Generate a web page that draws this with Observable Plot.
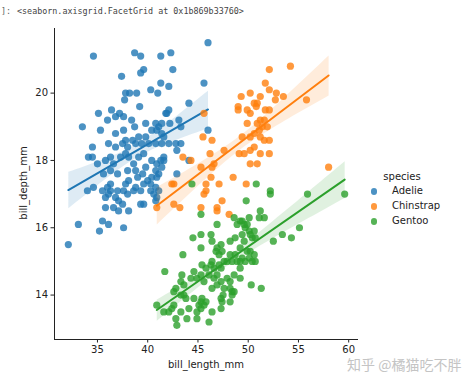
<!DOCTYPE html>
<html><head><meta charset="utf-8">
<script src="https://cdn.jsdelivr.net/npm/d3@7"></script>
<script src="https://cdn.jsdelivr.net/npm/@observablehq/plot@0.6"></script>
<style>
body{margin:0;background:#fff;}
#wrap{position:relative;width:474px;height:383px;overflow:hidden;font-family:"DejaVu Sans",sans-serif;color:#222;}
.abs{position:absolute;white-space:nowrap;line-height:1;}
</style></head>
<body><div id="wrap"></div>
<script>
const species = ["Adelie", "Chinstrap", "Gentoo"];
const colors = ["#1f77b4", "#ff7f0e", "#2ca02c"];
const xTicks = [35, 40, 45, 50, 55, 60];
const yTicks = [14, 16, 18, 20];
const xDomain = [30.725, 60.975];
const yDomain = [12.68, 21.92];

// [bill_length_mm, bill_depth_mm]
const adelie = [
[34.6,21.1],[38.7,21.2],[39.3,21.1],[41.3,21.1],[39.6,20.7],[39.3,20.6],[37.4,20.5],[40.3,20.1],[41.0,20.0],[41.3,20.3],
[37.8,20.0],[38.2,20.0],[38.9,20.0],[37.7,19.8],[39.2,19.6],[35.1,19.4],[36.4,19.5],[36.0,19.2],[36.8,19.3],[37.2,19.4],
[37.6,19.3],[38.4,19.2],[33.5,19.0],[35.3,18.9],[36.8,18.8],[37.6,18.9],[38.7,19.0],[39.8,19.1],[40.8,19.1],[41.4,19.1],
[40.4,18.9],[40.9,18.9],[39.1,18.7],[39.8,18.7],[37.8,18.6],[38.5,18.6],
[42.5,20.7],[42.1,20.2],[45.6,20.3],[44.1,19.7],[42.1,19.5],[41.9,19.4],[41.8,19.4],[43.1,19.2],[43.3,19.0],[42.2,19.1],
[41.1,19.0],[41.6,18.7],[41.4,18.8],[42.1,18.5],[42.8,18.5],[43.3,18.5],[42.9,18.3],[41.6,18.1],[41.3,18.0],[44.1,18.0],
[46.0,21.5],[42.3,21.2],[46.0,18.9],
[34.5,18.4],[36.1,18.5],[36.8,18.4],[37.5,18.5],[38.0,18.4],[38.8,18.5],[39.4,18.5],[40.1,18.5],[40.8,18.5],[41.4,18.5],
[34.1,18.1],[34.5,18.1],[35.0,17.9],[35.8,18.0],[36.3,18.1],[36.6,17.9],[37.3,18.1],[37.8,18.2],[38.1,18.1],[38.6,17.9],
[39.1,18.1],[39.6,18.2],[39.8,17.8],[40.4,18.0],[40.9,17.9],[40.8,17.7],[41.4,17.8],[35.6,17.6],[36.3,17.7],[37.0,17.6],
[38.0,17.7],[38.8,17.7],[39.0,17.5],[39.5,17.6],[40.0,17.4],[40.4,17.5],[38.1,17.4],[37.8,17.3],[34.0,17.1],[34.6,17.2],
[35.5,17.1],[36.0,17.2],[36.3,17.3],[36.1,17.0],[36.3,17.1],[35.8,16.9],[36.8,16.9],[37.0,17.1],[37.6,17.1],[38.0,17.0],
[38.6,17.1],[38.8,17.2],[39.3,17.1],[39.6,17.3],[40.3,17.1],[40.6,17.0],[40.8,17.2],[41.1,17.1],[40.3,17.3],[37.1,16.8],
[37.5,16.7],[35.8,16.6],[36.6,16.6],[37.1,16.5],[38.1,16.5],[39.6,16.7],[33.1,16.1],[35.5,16.2],[36.1,16.1],[35.2,15.9],
[37.6,16.0],[32.1,15.5],
[41.1,17.6],[40.9,17.5],[42.9,17.6],[40.9,16.9],[40.8,16.8],[41.6,18.0],[39.3,16.7]
];
const chinstrap = [
[45.6,19.4],[45.5,18.7],[46.4,18.6],[43.5,18.1],[44.3,18.0],[46.2,18.2],[47.6,18.3],[46.6,17.9],[49.3,19.9],[50.2,20.0],
[51.2,19.9],[52.1,20.1],[49.0,19.6],[49.0,19.5],[49.9,19.5],[50.2,19.4],[50.8,19.6],[50.6,19.7],[50.9,19.7],[51.7,19.5],
[52.1,19.5],[49.9,19.1],[50.9,19.1],[51.4,19.0],[51.2,19.2],[51.6,19.2],[51.9,19.0],[49.4,18.7],[50.2,18.7],[50.6,18.8],
[51.1,18.9],[51.2,18.7],[51.6,18.6],[52.1,18.6],[49.1,18.2],[49.6,18.2],[50.2,18.3],[50.6,18.4],[51.2,18.2],[52.1,18.2],
[50.2,17.9],[50.9,17.9],[52.1,20.7],[54.2,20.8],[51.7,20.3],[52.8,20.0],[53.5,19.9],[52.7,19.8],[55.8,19.8],[58.0,17.8],
[42.4,17.3],[42.6,17.3],[45.8,17.3],[47.1,17.3],[49.8,17.3],[45.6,17.0],[45.8,17.1],[47.4,16.8],[40.9,16.6],[42.6,16.7],
[43.2,16.6],[45.3,16.6],[46.9,16.6],[46.9,16.5],[48.1,16.4],[45.3,17.8],[46.4,17.8],[46.3,17.5],[48.5,17.5]
];
const gentoo = [
[44.4,17.3],[45.3,16.4],[50.8,17.3],[49.8,16.8],[52.2,17.1],[52.2,17.0],[55.9,17.0],[59.6,17.0],[51.2,16.5],[51.1,16.3],
[51.6,16.3],[48.6,16.3],[49.2,16.2],[50.1,16.3],[49.4,16.2],[49.6,16.1],[49.9,16.1],[49.7,16.0],[50.1,15.9],[50.6,15.9],
[50.2,15.8],[50.7,15.7],[50.4,15.7],[49.4,15.8],[49.6,15.6],[55.1,16.0],[53.4,15.8],[54.3,15.7],[52.5,15.6],[49.2,15.4],
[49.9,15.3],[50.2,15.3],[50.6,15.2],[50.1,15.1],[49.7,15.0],[50.4,15.0],[50.7,15.0],[49.2,14.8],[49.2,14.5],[50.3,14.3],
[51.3,14.2],[46.9,16.1],[44.5,15.7],[45.3,15.8],[46.3,15.8],[46.4,15.6],[48.2,15.6],[48.7,15.7],[48.9,16.1],[45.3,15.4],
[47.3,15.5],[46.9,15.4],[47.4,15.3],[46.8,15.3],[47.1,15.2],[48.2,15.2],[48.7,15.2],[43.5,15.2],[44.6,14.7],[45.4,14.9],
[45.8,14.8],[46.4,15.0],[46.3,14.9],[46.6,14.8],[47.1,14.9],[47.3,14.8],[47.6,15.0],[47.9,15.0],[48.4,15.0],[48.9,15.0],
[49.4,15.1],[49.2,15.0],[41.7,14.7],[43.4,14.6],[43.3,14.4],[43.6,14.3],[44.3,14.5],[44.9,14.5],[45.3,14.6],[45.6,14.4],
[46.1,14.6],[46.6,14.5],[46.9,14.6],[47.3,14.4],[47.9,14.5],[48.2,14.4],[48.6,14.6],[47.6,14.2],[48.2,14.2],[48.4,14.1],
[48.4,14.0],[42.6,14.1],[42.8,14.2],[43.6,14.0],[43.3,14.0],[43.8,13.9],[44.6,13.9],[45.3,13.8],[45.4,13.9],[45.6,13.7],
[45.1,13.7],[45.8,13.8],[47.3,13.9],[47.4,13.8],[48.2,13.8],[40.9,13.7],[41.6,13.5],[42.6,13.7],[42.4,13.6],[43.3,13.5],
[44.1,13.6],[44.9,13.5],[45.3,13.6],[46.4,13.5],[47.3,13.6],[42.8,13.3],[43.9,13.3],[44.9,13.3],[46.1,13.2],[42.9,13.1],
[42.1,13.5],[47.5,14.0],[48.6,14.1],[46.4,14.2],[46.9,14.3]
];

const series = [adelie, chinstrap, gentoo];
const table = species.flatMap((s, i) => series[i].map(([x, y]) => ({species: s, x, y})));

const marks = [];
species.forEach((s) => {
  const d = table.filter(r => r.species === s);
  marks.push(Plot.dot(d, {x: "x", y: "y", fill: "species", fillOpacity: 0.8, r: 3.6}));
  marks.push(Plot.linearRegressionY(d, {x: "x", y: "y", stroke: "species", fill: "species", fillOpacity: 0.15, strokeWidth: 2, ci: 0.95}));
});
marks.push(Plot.ruleX([xDomain[0]], {stroke: "#222", strokeWidth: 1}));
marks.push(Plot.ruleY([yDomain[0]], {stroke: "#222", strokeWidth: 1}));

const chart = Plot.plot({
  width: 474, height: 383,
  marginTop: 28, marginBottom: 44, marginLeft: 54, marginRight: 116,
  style: {fontFamily: "DejaVu Sans", fontSize: "10px", color: "#222", background: "transparent"},
  x: {domain: xDomain, ticks: xTicks, tickSize: 3.5, tickPadding: 3, label: null},
  y: {domain: yDomain, ticks: yTicks, tickSize: 3.5, tickPadding: 3, label: null},
  color: {domain: species, range: colors},
  marks
});
chart.style.position = "absolute";
chart.style.left = "0px";
chart.style.top = "0px";
const wrap = document.getElementById("wrap");
wrap.appendChild(chart);

function addText(txt, css) {
  const el = document.createElement("div");
  el.className = "abs";
  el.textContent = txt;
  Object.assign(el.style, css);
  wrap.appendChild(el);
  return el;
}
addText("]:", {left: "1px", top: "6px", font: "8.4px 'DejaVu Sans Mono'", color: "#666"});
addText("<seaborn.axisgrid.FacetGrid at 0x1b869b33760>", {left: "17px", top: "6px", font: "8.4px 'DejaVu Sans Mono'", color: "#444"});
addText("bill_length_mm", {left: "206px", top: "360px", fontSize: "10px", transform: "translateX(-50%)"});
addText("bill_depth_mm", {left: "24px", top: "183px", fontSize: "10px", transform: "translate(-50%,-50%) rotate(-90deg)"});
addText("species", {left: "402px", top: "172px", fontSize: "10px", transform: "translateX(-50%)"});
species.forEach((s, i) => {
  const yc = 191.7 + i * 15;
  const dot = document.createElement("div");
  Object.assign(dot.style, {position: "absolute", left: (374 - 3.4) + "px", top: (yc - 3.4) + "px", width: "6.8px", height: "6.8px", borderRadius: "50%", background: colors[i], opacity: 0.8});
  wrap.appendChild(dot);
  addText(s, {left: "392px", top: (yc - 5.5) + "px", fontSize: "10px"});
});
addText("知乎 @橘猫吃不胖", {left: "347px", top: "357px", fontSize: "14px", fontFamily: "'Noto Sans CJK SC'", color: "#c4c4c4"});
</script>
</body></html>
